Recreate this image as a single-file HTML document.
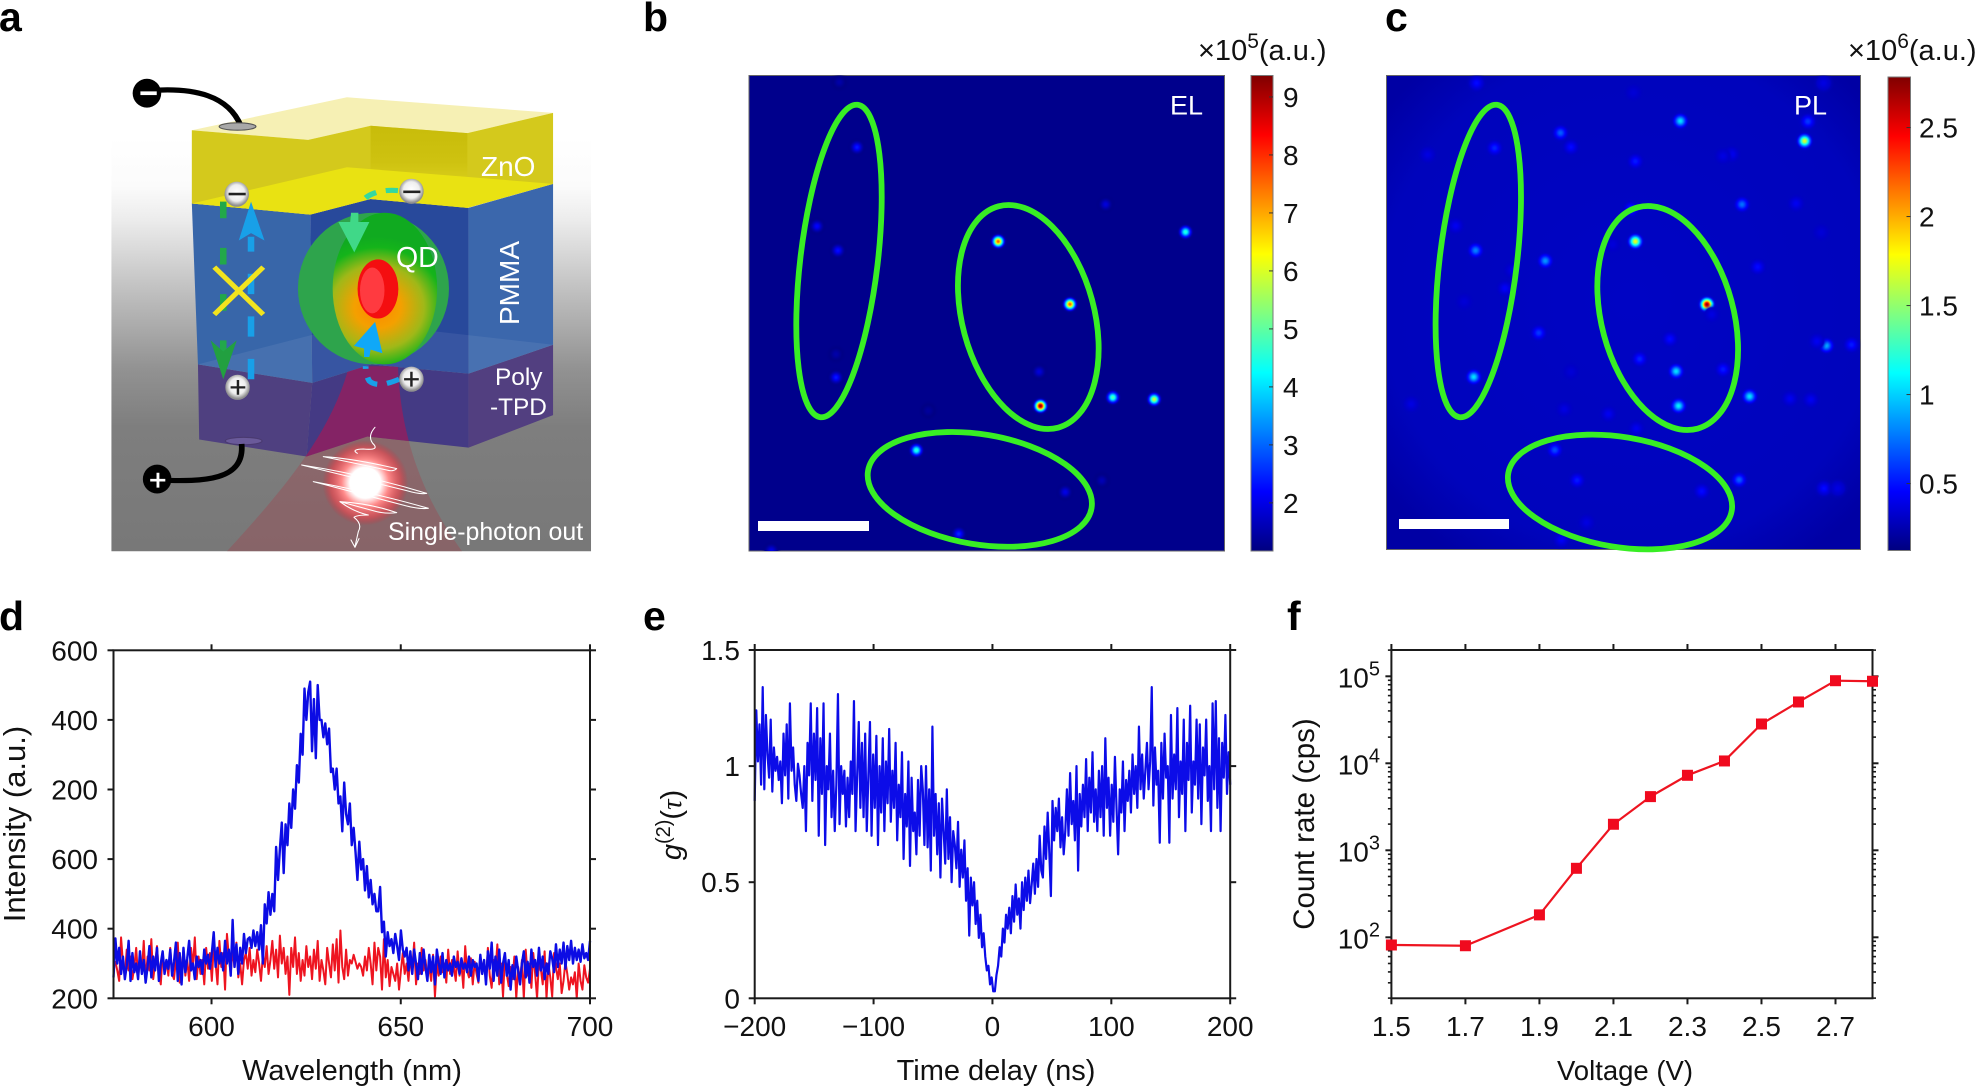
<!DOCTYPE html>
<html lang="en">
<head>
<meta charset="utf-8">
<title>Single-photon quantum dot device figure</title>
<style>
html,body{margin:0;padding:0;background:#fff;}
svg{display:block;font-family:"Liberation Sans",Arial,sans-serif;}
text{fill:#111;}
.plab{font-size:41px;font-weight:bold;fill:#000;}
.wt{fill:#fff;}
.tick{font-size:28px;}
.title{font-size:29px;}
</style>
</head>
<body>
<svg id="figure" width="1975" height="1087" viewBox="0 0 1975 1087" xmlns="http://www.w3.org/2000/svg">
<defs>
<linearGradient id="bgGrad" gradientUnits="userSpaceOnUse" x1="0" y1="370" x2="0" y2="1490">
<stop offset="0" stop-color="#ffffff"/><stop offset="0.12" stop-color="#fbfbfb"/><stop offset="0.2" stop-color="#ececec"/><stop offset="0.38" stop-color="#bebebe"/><stop offset="0.56" stop-color="#929292"/><stop offset="0.7" stop-color="#7e7e7e"/><stop offset="1" stop-color="#787878"/>
</linearGradient>
<linearGradient id="znoInnerGrad" x1="0" y1="0" x2="0" y2="1">
<stop offset="0" stop-color="#c8bc0a"/><stop offset="0.7" stop-color="#cec210"/><stop offset="1" stop-color="#d6cb18"/>
</linearGradient>
<radialGradient id="qdGrad" gradientUnits="userSpaceOnUse" cx="925" cy="830" r="190">
<stop offset="0" stop-color="#ff8600"/><stop offset="0.3" stop-color="#f4a000"/><stop offset="0.6" stop-color="#a0b818"/><stop offset="0.85" stop-color="#14b41a"/><stop offset="1" stop-color="#10aa20"/>
</radialGradient>
<radialGradient id="glowGrad">
<stop offset="0" stop-color="#ffffff"/><stop offset="0.36" stop-color="#ffffff"/><stop offset="0.55" stop-color="#ff8c8c"/><stop offset="0.82" stop-color="#f04850" stop-opacity="0.6"/><stop offset="1" stop-color="#e02030" stop-opacity="0"/>
</radialGradient>
<radialGradient id="chargeGrad" cx="0.5" cy="0.45">
<stop offset="0" stop-color="#ffffff"/><stop offset="0.65" stop-color="#eeeeee"/><stop offset="1" stop-color="#8f8f8f"/>
</radialGradient>
<radialGradient id="plBg" gradientUnits="userSpaceOnUse" cx="1630" cy="300" r="310">
<stop offset="0" stop-color="#0004c4"/><stop offset="0.8" stop-color="#0004bc"/><stop offset="1" stop-color="#0000a4"/>
</radialGradient>
<clipPath id="purpleClip"><polygon points="485,985 765,1035 910,985 1148,1010 1355,932 1355,1122 1148,1210 900,1180 751,1234 488,1188"/></clipPath>
<clipPath id="clipB"><rect x="749" y="75.5" width="475.5" height="475.5"/></clipPath>
<clipPath id="clipC"><rect x="1386.5" y="75.5" width="474" height="474"/></clipPath>
</defs>
<rect width="1975" height="1087" fill="#fff"/>

<text class="plab" x="-1" y="31">a</text>
<text class="plab" x="643" y="31">b</text>
<text class="plab" x="1385" y="31">c</text>
<text class="plab" x="-1" y="630">d</text>
<text class="plab" x="643" y="630">e</text>
<text class="plab" x="1287" y="630">f</text>

<!-- Panel a: device schematic -->
<g id="panelA" transform="scale(0.40816,0.36996)">
<rect x="273" y="370" width="1175" height="1120" fill="url(#bgGrad)"/>
<path d="M855,990 L975,990 C980,1150 1020,1320 1132,1490 L556,1490 C680,1340 810,1180 855,990 Z" fill="#a83c48" opacity="0.32"/>
<polygon points="485,985 765,1035 751,1234 488,1188" fill="#4f4080"/>
<polygon points="765,1035 910,985 1148,1010 1148,1210 900,1180 751,1234" fill="#443a84"/>
<polygon points="1148,1010 1355,932 1355,1122 1148,1210" fill="#523f80"/>
<polygon points="470,550 760,580 765,1035 485,985" fill="#3866a9"/>
<polygon points="760,580 908,538 1148,562 1148,1010 910,985 765,1035" fill="#28499b"/>
<polygon points="1148,562 1355,497 1355,932 1148,1010" fill="#3b67ac"/>
<polygon points="485,985 765,905 1060,895 1355,932 1148,1010 910,985 765,1035" fill="#ffffff" opacity="0.07"/>
<polygon points="470,352 850,263 1355,305 1145,360 908,340 755,378" fill="#f6f0b4"/>
<polygon points="470,352 755,378 908,340 1145,360 1355,305 1355,497 1145,562 908,538 760,580 470,550" fill="#d4c91c"/>
<polygon points="908,340 1145,360 1145,480 908,460" fill="url(#znoInnerGrad)"/>
<polygon points="470,550 850,452 1355,497 1145,562 908,538 760,580" fill="#e9e212"/>
<path clip-path="url(#purpleClip)" d="M855,990 L975,990 C980,1150 1020,1320 1132,1490 L556,1490 C680,1340 810,1180 855,990 Z" fill="#c01048" opacity="0.52"/>
<ellipse cx="915" cy="780" rx="185" ry="205" fill="#2ea44c"/>
<ellipse cx="943" cy="780" rx="128" ry="205" fill="url(#qdGrad)"/>
<ellipse cx="926" cy="781" rx="50" ry="80" fill="#f40e10"/>
<ellipse cx="912" cy="785" rx="30" ry="62" fill="#ff3a40"/>
<line x1="547" y1="545" x2="547" y2="950" stroke="#22a84a" stroke-width="16" stroke-dasharray="45,80"/>
<polygon points="516,920 547,950 580,920 547,1025" fill="#22a040"/>
<line x1="615" y1="1025" x2="615" y2="640" stroke="#18a0e8" stroke-width="16" stroke-dasharray="55,60"/>
<polygon points="615,545 648,650 615,630 585,650" fill="#18a0e8"/>
<line x1="525" y1="722" x2="645" y2="850" stroke="#f2e41e" stroke-width="13"/>
<line x1="645" y1="722" x2="525" y2="850" stroke="#f2e41e" stroke-width="13"/>
<path d="M975,515 Q915,510 885,545" fill="none" stroke="#34d8a0" stroke-width="14" stroke-dasharray="30,24"/>
<polygon points="860,575 878,575 878,600 905,600 868,682 829,600 858,600" fill="#40d888"/>
<path d="M978,1025 Q925,1050 905,1030 Q895,1012 896,990" fill="none" stroke="#18a0e8" stroke-width="14" stroke-dasharray="32,24"/>
<polygon points="919,870 937,955 908,945 905,965 892,965 892,942 867,935" fill="#10a8f8"/>
<path d="M365,245 C480,235 560,260 590,340" fill="none" stroke="#000" stroke-width="14"/>
<ellipse cx="582" cy="342" rx="45" ry="10" fill="#a8a8a8" stroke="#555" stroke-width="3"/>
<ellipse cx="360" cy="252" rx="35" ry="39" fill="#000"/>
<rect x="344" y="247" width="40" height="10" fill="#fff"/>
<ellipse cx="597" cy="1192" rx="45" ry="10" fill="#6a5a9a" stroke="#4a3a70" stroke-width="3"/>
<path d="M390,1298 C500,1302 600,1300 592,1200" fill="none" stroke="#000" stroke-width="14"/>
<ellipse cx="385" cy="1295" rx="35" ry="39" fill="#000"/>
<path d="M368,1298 H405 M387,1278 V1318" stroke="#fff" stroke-width="7" fill="none"/>
<g><ellipse cx="580" cy="525" rx="30" ry="34" fill="url(#chargeGrad)"/><rect x="560" y="521" width="42" height="7" fill="#222"/></g>
<g><ellipse cx="1008" cy="517" rx="30" ry="34" fill="url(#chargeGrad)"/><rect x="988" y="515" width="42" height="7" fill="#222"/></g>
<g><ellipse cx="582" cy="1047" rx="30" ry="34" fill="url(#chargeGrad)"/><path d="M565,1047 H601 M583,1027 V1067" stroke="#222" stroke-width="6" fill="none"/></g>
<g><ellipse cx="1008" cy="1025" rx="30" ry="34" fill="url(#chargeGrad)"/><path d="M990,1025 H1026 M1008,1005 V1045" stroke="#222" stroke-width="6" fill="none"/></g>
<ellipse cx="895" cy="1305" rx="105" ry="115" fill="url(#glowGrad)"/>
</g>
<g transform="translate(220,400) scale(0.3333)" fill="none" stroke="#fff" stroke-width="3.2" stroke-linejoin="round" stroke-linecap="round">
<path d="M465,82 Q442,108 458,130 Q482,152 430,147 Q392,148 412,160"/>
<path d="M310,170 Q400,175 530,206 Q520,216 500,210 L310,170 Z"/>
<path d="M245,195 Q440,225 620,280 Q600,284 560,272 L245,195 Z"/>
<path d="M280,245 Q470,280 625,325 Q600,328 560,318 L280,245 Z"/>
<path d="M360,305 Q450,310 530,338 Q500,342 470,335 L360,305 Z"/>
<path d="M360,305 Q400,335 445,345 Q410,345 402,352 Q428,372 415,395 L405,440 M393,420 L405,442 L417,416"/>
</g>
<text class="wt" x="481" y="176" font-size="28">ZnO</text>
<text class="wt" x="396" y="267" font-size="28.5">QD</text>
<text class="wt" transform="translate(519,325) rotate(-90)" font-size="28">PMMA</text>
<text class="wt" x="495" y="385" font-size="24.4">Poly</text>
<text class="wt" x="490" y="415" font-size="24.4">-TPD</text>
<text class="wt" x="388" y="540" font-size="24.9">Single-photon out</text>

<!-- Panel b -->
<g id="panelB">
<rect x="749" y="75.5" width="475.5" height="475.5" fill="#00008c" stroke="#666" stroke-width="1"/>
<g id="spotsB" clip-path="url(#clipB)"></g>
<ellipse cx="839" cy="261" rx="38.7" ry="157.3" transform="rotate(6.8 839 261)" fill="none" stroke="#38ee24" stroke-width="5.8"/>
<ellipse cx="1028.3" cy="317" rx="66" ry="114.6" transform="rotate(-15.1 1028.3 317)" fill="none" stroke="#38ee24" stroke-width="5.8"/>
<ellipse cx="979.8" cy="489.4" rx="113.3" ry="55" transform="rotate(9.5 979.8 489.4)" fill="none" stroke="#38ee24" stroke-width="5.8"/>
<rect x="758" y="521" width="111" height="10" fill="#fff"/>
<text class="wt" x="1170" y="114.7" font-size="27">EL</text>
<text x="1198" y="60" font-size="29">×10<tspan font-size="21" dy="-12">5</tspan><tspan dy="12">(a.u.)</tspan></text>
<g id="colorbarB"></g>
</g>

<!-- Panel c -->
<g id="panelC">
<rect x="1386.5" y="75.5" width="474" height="474" fill="url(#plBg)" stroke="#666" stroke-width="1"/>
<g id="spotsC" clip-path="url(#clipC)"></g>
<ellipse cx="1478.3" cy="261" rx="38.7" ry="157.3" transform="rotate(6.8 1478.3 261)" fill="none" stroke="#38ee24" stroke-width="5.8"/>
<ellipse cx="1667.7" cy="318" rx="66" ry="114.6" transform="rotate(-15.1 1667.7 318)" fill="none" stroke="#38ee24" stroke-width="5.8"/>
<ellipse cx="1620" cy="492" rx="113.3" ry="55" transform="rotate(9.5 1620 492)" fill="none" stroke="#38ee24" stroke-width="5.8"/>
<rect x="1399" y="519" width="110" height="10" fill="#fff"/>
<text class="wt" x="1794" y="114.7" font-size="27">PL</text>
<text x="1848" y="60" font-size="29">×10<tspan font-size="21" dy="-12">6</tspan><tspan dy="12">(a.u.)</tspan></text>
<g id="colorbarC"></g>
</g>

<!-- Panels d, e, f -->
<g id="panelD">
<text class="title" x="352" y="1080" text-anchor="middle">Wavelength (nm)</text>
<text class="title" transform="translate(25,824) rotate(-90)" text-anchor="middle" style="font-size:31px">Intensity (a.u.)</text>
</g>
<g id="panelE">
<text class="title" x="996" y="1080" text-anchor="middle">Time delay (ns)</text>
<text class="title" transform="translate(681,825) rotate(-90)" text-anchor="middle"><tspan font-style="italic">g</tspan><tspan font-size="20" dy="-11">(2)</tspan><tspan dy="11">(</tspan><tspan font-style="italic" font-family="Liberation Serif, serif">τ</tspan>)</text>
</g>
<g id="panelF">
<text class="title" x="1625" y="1080" text-anchor="middle" style="font-size:27.5px">Voltage (V)</text>
<text class="title" transform="translate(1314,824) rotate(-90)" text-anchor="middle" style="font-size:29.5px">Count rate (cps)</text>
</g>
</svg>

<script>
/* ---------- panel b / c data (position in percent of the field of view, intensity in colorbar units) ---------- */
const elSpotX = [52.4,67.5,61.3,91.8,76.5,85.2,35.2,22.7,14.3,18.7,18.3,44.1,66.5,61,75,4.7,18.3,74.2,37.7,19];
const elSpotY = [34.9,48.1,69.5,32.9,67.7,68.1,78.8,15.1,31.7,36.8,63.5,96.4,87.6,62.3,27.1,99.9,58.6,85.2,70.5,1.4];
const elSpotValue = [7.6,7.6,9.35,4.6,4.9,5.9,4.6,2.4,2.2,2.3,2.4,2.5,2.0,1.9,1.9,2.0,1.5,1.6,1.4,1.5];
const plSpotX = [67.6,52.5,88.2,62,18.4,61.1,61.6,76.6,92.8,33.5,18.8,75,36.7,22.8,88.9,52.5,38.9,32.1,35.5,74.4,40.2,66.5,92.3,53.4,59.8,71,78.3,98.1,51.6,25,19,14.6,8.7,72.8,71,86.4,85.1,89.5,5.2,37.5,46.8,52.7,36.9,42.2,92.2,95.2,38.9,16.4,26.5,52.1,91.7,47.7,68.6,90.8];
const plSpotY = [48.3,35,13.8,9.6,63.6,62.4,69.7,67.7,57,39.1,36.9,27.2,12.1,15.3,9.7,18.1,15.1,54.3,79,85.3,85.4,87.7,87.1,59.8,55.6,62,40.4,56.8,28.2,44.9,1.6,31.7,16.7,16.6,17,27,68.2,68.4,69.3,70.4,71.4,74.5,97.9,94.3,1.6,87.1,62.5,47.7,41.1,3.6,33.1,35.6,50.4,56.1];
const plSpotValue = [2.75,1.75,1.7,1.05,1.05,1.05,1.1,1.05,0.9,0.85,0.8,0.75,0.7,0.55,0.6,0.52,0.48,0.6,0.65,0.7,0.52,0.48,0.48,0.55,0.48,0.52,0.48,0.52,0.6,0.44,0.48,0.42,0.38,0.42,0.38,0.42,0.42,0.42,0.38,0.38,0.42,0.42,0.44,0.38,0.38,0.38,0.35,0.35,0.38,0.35,0.35,0.36,0.38,0.42];
const elColorbarTicks = [2,3,4,5,6,7,8,9];
const plColorbarTicks = [0.5,1,1.5,2,2.5];

/* ---------- panel d data ---------- */
const dXTicks = [600,650,700];
const dYTicks = [200,400,600,800,1000,1200];
const dYTickLabels = ['200','400','600','200','400','600'];
const dBlueIntensity = [260,372,300,345,270,320,255,295,365,250,330,275,300,255,335,270,310,245,290,350,260,320,280,345,250,300,335,270,310,285,340,265,
305,360,250,330,240,345,275,315,365,280,300,255,320,290,310,270,340,300,325,285,
330,390,290,345,300,330,280,365,300,340,265,425,290,355,270,345,300,385,330,370,
375,345,395,350,390,340,410,300,470,415,505,440,500,450,635,540,630,705,560,700,
640,760,690,800,745,870,820,960,900,1090,1000,1080,1110,910,1060,890,1100,1000,1000,950,
990,930,975,850,860,800,860,760,780,680,820,730,700,760,640,690,620,540,650,570,
600,510,580,490,540,470,500,450,450,520,390,420,320,390,350,370,330,385,350,310,
395,340,320,345,280,335,270,340,300,255,330,270,340,290,250,325,275,320,240,340,
300,270,330,260,310,280,300,265,320,290,305,270,315,285,300,275,320,265,310,290,
300,250,325,270,310,240,335,285,360,250,320,265,340,245,300,330,265,310,225,295,
255,320,280,240,300,335,260,305,245,340,290,310,265,345,280,320,255,300,270,335,
315,275,355,290,340,300,360,285,350,310,365,300,345,310,340,305,355,315,330,310,365];
const dRedIntensity = [290,305,280,250,375,300,265,340,280,320,255,290,345,260,310,275,365,250,320,280,370,255,300,350,270,240,330,285,310,265,345,270,
255,310,360,245,290,335,265,310,250,345,290,375,255,320,270,310,240,345,285,330,
250,350,300,240,365,290,330,225,385,320,270,340,290,360,260,300,240,310,330,285,
345,265,310,275,340,300,250,325,290,350,270,310,365,285,340,260,380,300,345,270,
320,210,345,290,375,270,330,250,310,265,350,290,320,255,340,285,365,250,310,280,
240,345,300,260,355,280,370,245,395,290,255,340,265,310,300,325,305,285,300,290,
265,320,280,345,300,240,360,280,345,320,225,370,260,310,235,290,270,250,300,225,
280,330,270,300,250,320,285,360,240,300,270,345,280,310,260,290,250,325,205,300,
265,320,275,300,245,340,270,310,290,250,335,265,300,230,350,280,260,315,240,305,
270,245,320,285,300,250,345,265,230,310,280,355,240,300,205,320,270,235,290,255,
320,200,290,250,310,200,340,265,300,230,330,270,200,310,285,240,335,200,300,260,
205,330,290,255,300,215,250,305,270,225,260,240,275,200,300,250,225,295,260,245,285];

/* ---------- panel e data ---------- */
const eXTicks = [-200,-100,0,100,200];
const eXTickLabels = ['−200','−100','0','100','200'];
const eYTicks = [0,0.5,1,1.5];
const eYTickLabels = ['0','0.5','1','1.5'];
const eCoincidence = [0.85,1.24,1.02,1.18,0.92,1.34,0.9,1.22,1.05,0.95,1.2,0.89,1.08,0.98,1.04,0.94,1.02,0.84,1.14,0.96,
1.18,0.86,1.27,0.98,1.08,0.92,0.85,1.01,0.96,0.88,0.82,1.0,0.72,1.1,0.96,1.27,0.85,1.14,0.94,1.25,
0.7,1.12,0.88,1.27,0.66,1.0,0.9,1.14,0.78,0.98,0.72,0.92,1.31,0.75,1.0,0.88,0.98,0.74,0.95,0.78,
1.02,0.88,1.28,0.72,0.96,1.19,0.82,1.1,0.78,1.14,0.72,0.96,1.19,0.7,1.05,0.82,1.13,0.66,1.0,0.8,
1.12,0.72,1.02,0.84,1.16,0.76,0.98,0.82,1.1,0.68,0.92,0.78,1.06,0.6,0.88,0.74,1.02,0.57,0.95,0.72,
0.8,0.62,0.94,0.7,1.0,0.9,0.66,
1.0,0.65,0.9,0.55,1.17,0.7,0.88,0.62,0.84,0.52,0.86,0.72,0.58,0.9,0.6,0.78,0.5,0.72,0.66,0.56,
0.76,0.48,0.64,0.52,0.68,0.42,0.56,0.27,0.52,0.4,0.5,0.32,0.42,0.26,0.36,0.22,0.28,0.18,0.12,0.14,0.06,0.09,0.03,
0.03,0.1,0.14,0.22,0.18,0.3,0.24,0.36,0.3,0.39,0.28,0.44,0.33,0.49,0.36,0.43,0.3,0.5,0.38,0.52,
0.42,0.55,0.41,0.49,0.58,0.45,0.6,0.48,0.7,0.55,0.52,0.74,0.6,0.8,0.63,0.44,0.85,0.68,0.82,0.72,
0.86,0.65,0.78,0.62,0.72,0.9,0.7,0.97,0.75,0.85,0.68,1.0,0.55,0.88,0.74,0.92,0.78,1.03,0.72,0.95,
0.8,1.06,0.76,0.9,0.72,0.98,0.78,1.0,0.7,1.12,0.82,0.95,0.7,0.92,0.76,1.04,0.82,0.62,0.9,0.8,
1.02,0.72,0.94,0.85,0.98,0.8,1.05,0.88,1.0,0.82,1.17,0.9,1.05,0.86,0.98,1.1,0.9,1.02,1.34,0.83,
1.08,0.92,0.98,0.67,1.1,0.86,1.14,0.95,1.0,0.67,1.22,0.86,1.05,0.9,1.25,0.78,1.02,0.88,1.2,0.72,
1.1,0.94,1.26,0.8,1.02,0.92,1.2,0.86,1.18,0.75,1.08,0.96,1.2,0.85,1.0,0.72,1.27,0.9,1.28,0.82,
1.12,0.72,1.1,0.95,1.22,0.88,1.06,0.92];

/* ---------- panel f data ---------- */
const fVoltage = [1.5,1.7,1.9,2.0,2.1,2.2,2.3,2.4,2.5,2.6,2.7,2.8];
const fCountRate = [81.6,80,181,621,1992,4140,7280,10640,28300,50700,89000,87700];
const fXTicks = [1.5,1.7,1.9,2.1,2.3,2.5,2.7];
const fYDecades = [2,3,4,5];
const fYMinorMultipliers = [2,3,4,5,6,7,8,9];

const SVGNS = 'http://www.w3.org/2000/svg';
const defs = document.querySelector('#figure defs');
function mk(tag, attrs, parent){
  const n = document.createElementNS(SVGNS, tag);
  for (const k in attrs) n.setAttribute(k, attrs[k]);
  if (parent) parent.appendChild(n);
  return n;
}
function linear(d0, d1, r0, r1){ return v => r0 + (v - d0) * (r1 - r0) / (d1 - d0); }
function clamp01(v){ return Math.max(0, Math.min(1, v)); }
function jet(t){
  const r = clamp01(1.5 - Math.abs(4*t - 3));
  const g = clamp01(1.5 - Math.abs(4*t - 2));
  const b = clamp01(1.5 - Math.abs(4*t - 1));
  return 'rgb(' + Math.round(r*255) + ',' + Math.round(g*255) + ',' + Math.round(b*255) + ')';
}

/* ---------- heat maps ---------- */
let gradId = 0;
function drawSpots(parentId, xs, ys, vals, box, vmin, vmax, bg, sigma){
  const parent = document.getElementById(parentId);
  const sx = linear(0, 100, box.x0, box.x1);
  const sy = linear(0, 100, box.y0, box.y1);
  xs.forEach((xv, i) => {
    const id = 'spotGrad' + (gradId++);
    const g = mk('radialGradient', {id: id}, defs);
    const amp = vals[i] - bg;
    for (let s = 0; s <= 14; s++) {
      const rr = s / 14;
      const z = rr * 3;
      const f = Math.exp(-z * z / 2);
      const val = bg + amp * f;
      /* colour follows the jet scale; alpha fades the tail into the map background */
      mk('stop', {offset: rr, 'stop-color': jet((val - vmin) / (vmax - vmin)), 'stop-opacity': clamp01(f * 6)}, g);
    }
    const c = mk('circle', {cx: sx(xv), cy: sy(ys[i]), r: sigma * 3, fill: 'url(#' + id + ')'}, parent);
    
    
  });
}
function drawColorbar(parentId, box, vmin, vmax, ticks, labelX){
  const parent = document.getElementById(parentId);
  const id = 'cbGrad' + (gradId++);
  const g = mk('linearGradient', {id: id, x1: 0, y1: 1, x2: 0, y2: 0}, defs);
  for (let s = 0; s <= 32; s++) {
    mk('stop', {offset: s / 32, 'stop-color': jet(s / 32)}, g);
  }
  const r = mk('rect', {x: box.x0, y: box.y0, width: box.x1 - box.x0, height: box.y1 - box.y0, fill: 'url(#' + id + ')', stroke: '#777', 'stroke-width': 1}, parent);
  
  
  const sy = linear(vmin, vmax, box.y1, box.y0);
  ticks.forEach(v => {
    const t = mk('line', {x1: box.x1 - 4, x2: box.x1, y1: sy(v), y2: sy(v), stroke: '#333', 'stroke-width': 1}, parent);
    
    
    const l = mk('text', {x: labelX, y: sy(v) + 10, class: 'tick'}, parent);
    l.textContent = String(v);
    
    
  });
}
drawSpots('spotsB', elSpotX, elSpotY, elSpotValue, {x0:749,x1:1224.5,y0:75.5,y1:551}, 1.17, 9.37, 1.17, 3.3);
drawColorbar('colorbarB', {x0:1251,x1:1273,y0:75.5,y1:551}, 1.17, 9.37, elColorbarTicks, 1283);
drawSpots('spotsC', plSpotX, plSpotY, plSpotValue, {x0:1386.5,x1:1860.5,y0:75.5,y1:549.5}, 0.124, 2.784, 0.3, 3.5);
drawColorbar('colorbarC', {x0:1888,x1:1910.5,y0:77,y1:550.5}, 0.124, 2.784, plColorbarTicks, 1919);

/* ---------- axes ---------- */
function drawFrame(parent, box){
  const f = mk('rect', {x: box.x0, y: box.y0, width: box.x1 - box.x0, height: box.y1 - box.y0, fill: 'none', stroke: '#1a1a1a', 'stroke-width': 2}, parent);
  
  
}
function drawXTicks(parent, box, sx, ticks, labels){
  ticks.forEach((v, i) => {
    const x = sx(v);
    const bt = mk('line', {x1: x, x2: x, y1: box.y1, y2: box.y1 + 6, stroke: '#1a1a1a', 'stroke-width': 2}, parent);
    
    
    const tt = mk('line', {x1: x, x2: x, y1: box.y0, y2: box.y0 - 6, stroke: '#1a1a1a', 'stroke-width': 2}, parent);
    
    
    const l = mk('text', {x: x, y: 1036, class: 'tick', 'text-anchor': 'middle'}, parent);
    l.textContent = labels[i];
    
    
  });
}
function drawYTicks(parent, box, sy, ticks, labels, labelRight){
  ticks.forEach((v, i) => {
    const y = sy(v);
    const lt = mk('line', {x1: box.x0 - 6, x2: box.x0, y1: y, y2: y, stroke: '#1a1a1a', 'stroke-width': 2}, parent);
    
    
    const rt = mk('line', {x1: box.x1, x2: box.x1 + 6, y1: y, y2: y, stroke: '#1a1a1a', 'stroke-width': 2}, parent);
    
    
    const l = mk('text', {x: labelRight, y: y + 10, class: 'tick', 'text-anchor': 'end'}, parent);
    l.textContent = labels[i];
    
    
  });
}
function linePath(xs, ys){
  return xs.map((x, i) => (i ? 'L' : 'M') + x.toFixed(2) + ',' + ys[i].toFixed(2)).join('');
}

/* ---------- panel d ---------- */
const dBox = {x0: 113.5, x1: 590, y0: 650.3, y1: 998.3};
const dX = linear(574.1, 700, dBox.x0, dBox.x1);
const dY = linear(200, 1200, dBox.y1, dBox.y0);
const dG = document.getElementById('panelD');
const dStep = (700 - 574.1) / (dBlueIntensity.length - 1);
const dXs = dBlueIntensity.map((_, i) => dX(574.1 + i * dStep));
const dRedPath = mk('path', {d: linePath(dXs, dRedIntensity.map(dY)), fill: 'none', stroke: '#ee1420', 'stroke-width': 2, 'stroke-linejoin': 'round'}, dG);


const dBluePath = mk('path', {d: linePath(dXs, dBlueIntensity.map(dY)), fill: 'none', stroke: '#0c0ce4', 'stroke-width': 2.4, 'stroke-linejoin': 'round'}, dG);


drawFrame(dG, dBox);
drawXTicks(dG, dBox, dX, dXTicks, dXTicks.map(String));
drawYTicks(dG, dBox, dY, dYTicks, dYTickLabels, 98);

/* ---------- panel e ---------- */
const eBox = {x0: 754.7, x1: 1230.2, y0: 650, y1: 998.3};
const eX = linear(-200, 200, eBox.x0, eBox.x1);
const eY = linear(0, 1.5, eBox.y1, eBox.y0);
const eG = document.getElementById('panelE');
const eStep = 400 / (eCoincidence.length - 1);
const ePath = mk('path', {d: linePath(eCoincidence.map((_, i) => eX(-200 + i * eStep)), eCoincidence.map(eY)), fill: 'none', stroke: '#0c0ce8', 'stroke-width': 2.2, 'stroke-linejoin': 'round'}, eG);


drawFrame(eG, eBox);
drawXTicks(eG, eBox, eX, eXTicks, eXTickLabels);
drawYTicks(eG, eBox, eY, eYTicks, eYTickLabels, 740);

/* ---------- panel f ---------- */
const fBox = {x0: 1391.4, x1: 1872.5, y0: 650, y1: 998.3};
const fX = linear(1.5, 2.8, fBox.x0, fBox.x1);
const fLogY = linear(2, 5, 937.3, 676.3);
const fY = v => fLogY(Math.log10(v));
const fG = document.getElementById('panelF');
drawFrame(fG, fBox);
drawXTicks(fG, fBox, fX, fXTicks, fXTicks.map(v => v.toFixed(1)));
[1, 2, 3, 4, 5].forEach(dec => {
  fYMinorMultipliers.forEach(m => {
    const val = m * Math.pow(10, dec);
    const y = fY(val);
    if (y < fBox.y0 || y > fBox.y1) return;
    const lm = mk('line', {x1: fBox.x0 - 3.5, x2: fBox.x0, y1: y, y2: y, stroke: '#1a1a1a', 'stroke-width': 1.6}, fG);
    
    
    const rm = mk('line', {x1: fBox.x1, x2: fBox.x1 + 3.5, y1: y, y2: y, stroke: '#1a1a1a', 'stroke-width': 1.6}, fG);
    
    
  });
});
fYDecades.forEach(dec => {
  const y = fLogY(dec);
  const lt = mk('line', {x1: fBox.x0 - 6, x2: fBox.x0, y1: y, y2: y, stroke: '#1a1a1a', 'stroke-width': 2}, fG);
  
  
  const rt = mk('line', {x1: fBox.x1, x2: fBox.x1 + 6, y1: y, y2: y, stroke: '#1a1a1a', 'stroke-width': 2}, fG);
  
  
  const l = mk('text', {x: 1380, y: y + 11, class: 'tick', 'text-anchor': 'end'}, fG);
  const base = mk('tspan', {}, l);
  base.textContent = '10';
  const sup = mk('tspan', {'font-size': 20, dy: -12}, l);
  sup.textContent = String(dec);
  
  
});
const fLine = mk('path', {d: linePath(fVoltage.map(fX), fCountRate.map(fY)), fill: 'none', stroke: '#ee1420', 'stroke-width': 2.2}, fG);


fVoltage.forEach((v, i) => {
  const m = mk('rect', {x: fX(v) - 5.5, y: fY(fCountRate[i]) - 5.5, width: 11, height: 11, fill: '#f00a1e'}, fG);
  
  
});
</script>
</body>
</html>
